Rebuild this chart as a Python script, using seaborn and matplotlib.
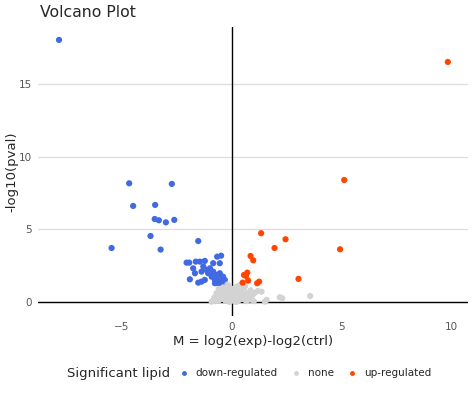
import numpy as np
import pandas as pd
import seaborn as sns
import matplotlib.pyplot as plt
from matplotlib.lines import Line2D

# %%
down_M = [-7.86, -4.67, -2.73, -4.49, -3.49, -3.51, -3.32, -3.0, -2.62, -3.70,
          -5.47, -3.24, -1.53, -2.06, -1.94, -1.64, -1.45, -1.23, -0.67, -0.49,
          -0.85, -0.55, -1.76, -1.68, -1.30, -1.15, -1.0, -1.38, -1.08, -0.85,
          -0.70, -0.55, -0.40, -0.32, -0.47, -0.62, -0.77, -1.91, -1.53, -1.38,
          -1.23, -0.92, -0.77, -0.62, -0.47, -0.32]
down_p = [18.07, 8.18, 8.14, 6.62, 6.69, 5.72, 5.63, 5.49, 5.66, 4.55,
          3.72, 3.61, 4.20, 2.71, 2.71, 2.78, 2.78, 2.83, 3.12, 3.19,
          2.67, 2.67, 2.32, 1.98, 2.44, 2.21, 2.32, 2.09, 1.98, 2.09,
          1.86, 1.98, 1.74, 1.52, 1.52, 1.63, 1.52, 1.56, 1.33, 1.40,
          1.52, 1.74, 1.29, 1.29, 1.29, 1.29]

up_M = [9.82, 5.11, 1.33, 2.44, 1.94, 4.92, 0.85, 0.97, 0.70, 0.55,
        0.64, 0.74, 0.49, 1.24, 1.15, 3.03]
up_p = [16.55, 8.41, 4.74, 4.32, 3.72, 3.63, 3.17, 2.87, 2.02, 1.86,
        1.79, 1.47, 1.33, 1.40, 1.29, 1.59]

none_M = [1.05, 1.35, 1.18, 0.74, 1.5, 1.58, 2.18, 2.29, 3.56, -0.92, 0.29, 0.21, 0.36,
          -0.8, -0.7, -0.6, -0.5, -0.45, -0.4, -0.35, -0.3, -0.25, -0.2, -0.15, -0.1,
          -0.05, 0.0, 0.05, 0.1, 0.12, 0.15, 0.2, 0.25, 0.3, 0.35, 0.4, 0.45, 0.5,
          0.55, 0.6, 0.65, 0.7, 0.8, 0.85, 0.9, -0.6, -0.55, -0.75, -0.3, -0.1,
          0.05, 0.2, 0.45, -0.2, -0.4, 0.95, 1.0, 0.6]
none_p = [0.64, 0.71, 0.76, 0.14, 0.02, 0.14, 0.32, 0.25, 0.41, 0.02, 0.6, 1.06, 1.17,
          0.3, 0.6, 0.9, 0.2, 0.7, 1.0, 0.4, 0.1, 0.8, 0.5, 1.1, 0.3,
          0.7, 0.15, 0.9, 0.4, 0.05, 0.65, 0.25, 0.85, 0.1, 0.45, 0.75, 0.2, 0.55,
          0.95, 0.3, 0.05, 0.6, 0.35, 0.8, 0.15, 0.1, 0.45, 0.05, 0.6, 0.0,
          0.5, 0.0, 1.0, 1.2, 0.25, 0.5, 0.05, 1.1]

groups = ["down-regulated", "none", "up-regulated"]
colors = {"down-regulated": "#4169E1", "none": "#D3D3D3", "up-regulated": "#FF4500"}

df = pd.concat([
    pd.DataFrame({"M": down_M, "pval": down_p, "sig": "down-regulated"}),
    pd.DataFrame({"M": none_M, "pval": none_p, "sig": "none"}),
    pd.DataFrame({"M": up_M, "pval": up_p, "sig": "up-regulated"}),
])

# %%
sns.set_style("white")
plt.rcParams['font.family'] = ['DejaVu Sans']

fig = plt.figure(figsize=(4.74, 3.95), dpi=100)
ax = fig.add_axes([0.080, 0.200, 0.907, 0.732])

ax.yaxis.grid(True, color="#DDDDDD", linewidth=0.9)
ax.set_axisbelow(True)
ax.axhline(0, color="black", linewidth=1.0, zorder=1)
ax.axvline(0, color="black", linewidth=1.0, zorder=1)

sns.scatterplot(data=df, x="M", y="pval", hue="sig", hue_order=groups,
                palette=colors, s=20, linewidth=0, ax=ax, legend=False, zorder=3)

ax.set_xlim(-8.82, 10.73)
ax.set_ylim(-0.97, 18.97)
ax.set_xticks([-5, 0, 5, 10])
ax.set_yticks([0, 5, 10, 15])
ax.tick_params(axis="both", labelsize=7.5, labelcolor="#555555", color="#555555",
               length=2.5, width=0.6, pad=2)
for s in ax.spines.values():
    s.set_visible(False)

ax.set_xlabel("M = log2(exp)-log2(ctrl)", fontsize=9.5, labelpad=2)
ax.set_ylabel("-log10(pval)", fontsize=9.5)
ax.yaxis.set_label_coords(-0.045, 0.5)
fig.text(0.084, 0.968, "Volcano Plot", fontsize=11.3, va="center", ha="left")

handles = [Line2D([], [], marker="o", linestyle="", markersize=3.5,
                  markerfacecolor=colors[g], markeredgewidth=0) for g in groups]
fig.text(0.141, 0.055, "Significant lipid", fontsize=9.5, va="center", ha="left")
fig.legend(handles, groups, loc="center left", bbox_to_anchor=(0.357, 0.055),
           ncol=3, frameon=False, fontsize=7.5, handletextpad=0.6,
           columnspacing=1.3, handlelength=1.0)

plt.savefig("out.png", dpi=100)
